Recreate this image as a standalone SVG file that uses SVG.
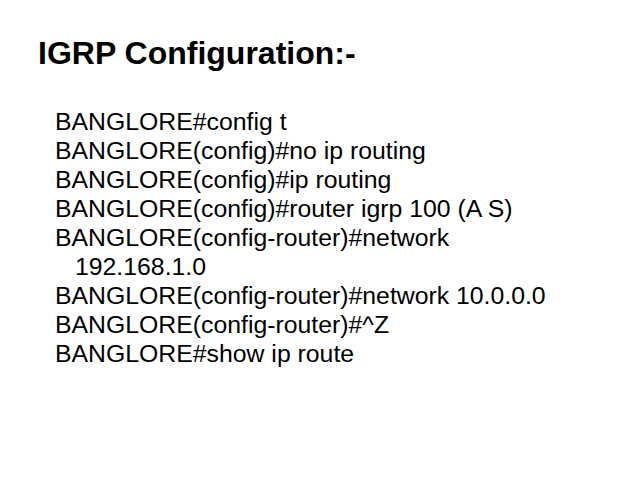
<svg xmlns="http://www.w3.org/2000/svg" width="638" height="478" viewBox="0 0 638 478">
<style>
.t{font-family:"Liberation Sans",Arial,sans-serif;font-size:24.8px;fill:#000}
.h{font-family:"Liberation Sans",Arial,sans-serif;font-size:32px;font-weight:bold;fill:#000}
</style>
<rect width="638" height="478" fill="#fff"/>
<text class="h" x="38" y="64">IGRP Configuration:-</text>
<g class="t">
<text x="55" y="130">BANGLORE#config t</text>
<text x="55" y="159">BANGLORE(config)#no ip routing</text>
<text x="55" y="188">BANGLORE(config)#ip routing</text>
<text x="55" y="217">BANGLORE(config)#router igrp 100 (A S)</text>
<text x="55" y="246">BANGLORE(config-router)#network</text>
<text x="75" y="275">192.168.1.0</text>
<text x="55" y="304">BANGLORE(config-router)#network 10.0.0.0</text>
<text x="55" y="333">BANGLORE(config-router)#^Z</text>
<text x="55" y="362">BANGLORE#show ip route</text>
</g>
</svg>
